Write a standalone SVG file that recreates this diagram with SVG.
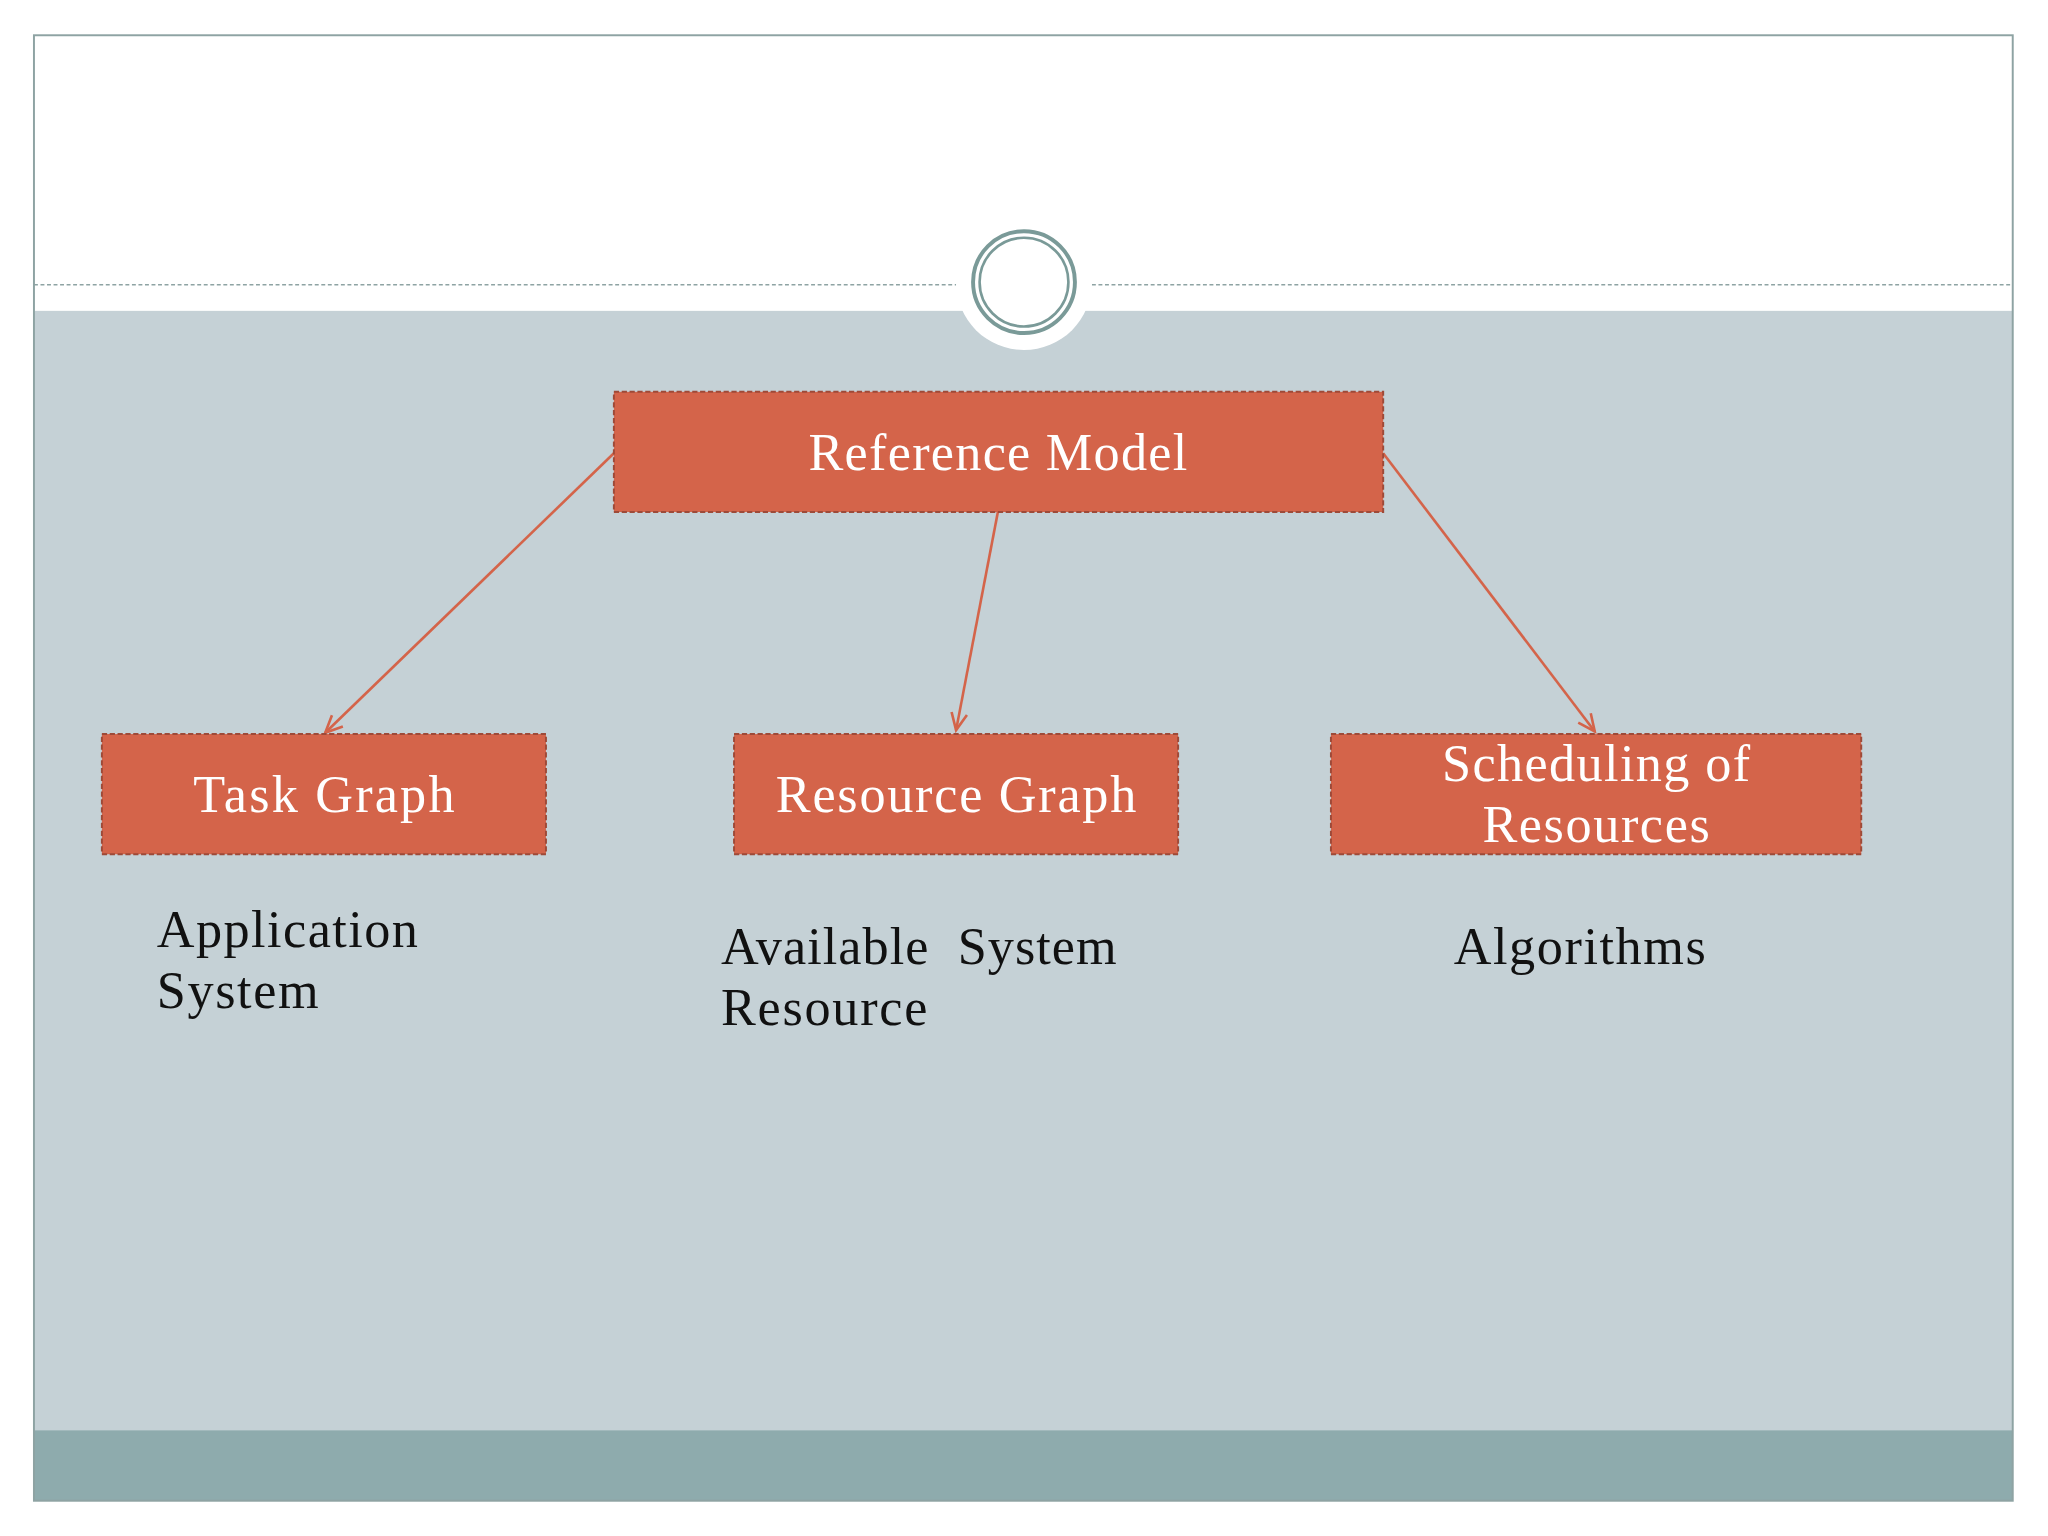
<svg xmlns="http://www.w3.org/2000/svg" width="2048" height="1536" viewBox="0 0 2048 1536">
<style>
.box{fill:#D4644A;stroke:#9E4A38;stroke-width:1.5;stroke-dasharray:4 2}
.bt{font-family:"Liberation Serif",serif;font-size:40px;fill:#fff;text-anchor:middle}
.lt{font-family:"Liberation Serif",serif;font-size:40px;fill:#111}
.con{stroke:#D4644A;stroke-width:2;fill:none;marker-end:url(#ah)}
</style>
<defs>
<marker id="ah" markerWidth="20" markerHeight="20" refX="14" refY="7" orient="auto" markerUnits="userSpaceOnUse">
<path d="M1,1 L14,7 L1,13" fill="none" stroke="#D4644A" stroke-width="2"/>
</marker>
</defs>
<rect width="2048" height="1536" fill="#fff"/>
<g transform="scale(1.30612)">
<rect x="26" y="238" width="1515" height="857" fill="#C5D1D6"/>
<rect x="26" y="1095" width="1515" height="54" fill="#8EABAD"/>
<rect x="26" y="27" width="1515" height="1122" fill="none" stroke="#8EA3A3" stroke-width="1.5"/>
<line x1="26" y1="218" x2="732" y2="218" stroke="#8EA3A3" stroke-width="1" stroke-dasharray="3 2"/>
<line x1="836" y1="218" x2="1541" y2="218" stroke="#8EA3A3" stroke-width="1" stroke-dasharray="3 2"/>
<circle cx="784" cy="216" r="52" fill="#fff"/>
<circle cx="784" cy="216" r="39" fill="none" stroke="#7A9A98" stroke-width="3"/>
<circle cx="784" cy="216" r="34" fill="none" stroke="#7A9A98" stroke-width="2"/>
<g id="connectors">
<line class="con" x1="470" y1="347" x2="249" y2="561"/>
<line class="con" x1="764" y1="392" x2="732" y2="559"/>
<line class="con" x1="1059" y1="347" x2="1221" y2="560"/>
</g>
<g id="reference-model"><rect class="box" x="470" y="300" width="589" height="92"/><text class="bt" x="764" y="360" textLength="290">Reference Model</text></g>
<g id="task-graph"><rect class="box" x="78" y="562" width="340" height="92"/><text class="bt" x="248" y="622" textLength="200">Task Graph</text></g>
<g id="resource-graph"><rect class="box" x="562" y="562" width="340" height="92"/><text class="bt" x="732" y="622" textLength="276">Resource Graph</text></g>
<g id="scheduling"><rect class="box" x="1019" y="562" width="406" height="92"/><text class="bt" x="1222" y="598" textLength="236">Scheduling of</text><text class="bt" x="1222" y="645" textLength="174">Resources</text></g>
<g id="labels">
<text class="lt" x="120" y="725" textLength="200">Application</text>
<text class="lt" x="120" y="772" textLength="124">System</text>
<text class="lt" x="552" y="738" xml:space="preserve" textLength="303">Available  System</text>
<text class="lt" x="552" y="785" textLength="158">Resource</text>
<text class="lt" x="1113" y="738" textLength="193">Algorithms</text>
</g>
</g>
</svg>
